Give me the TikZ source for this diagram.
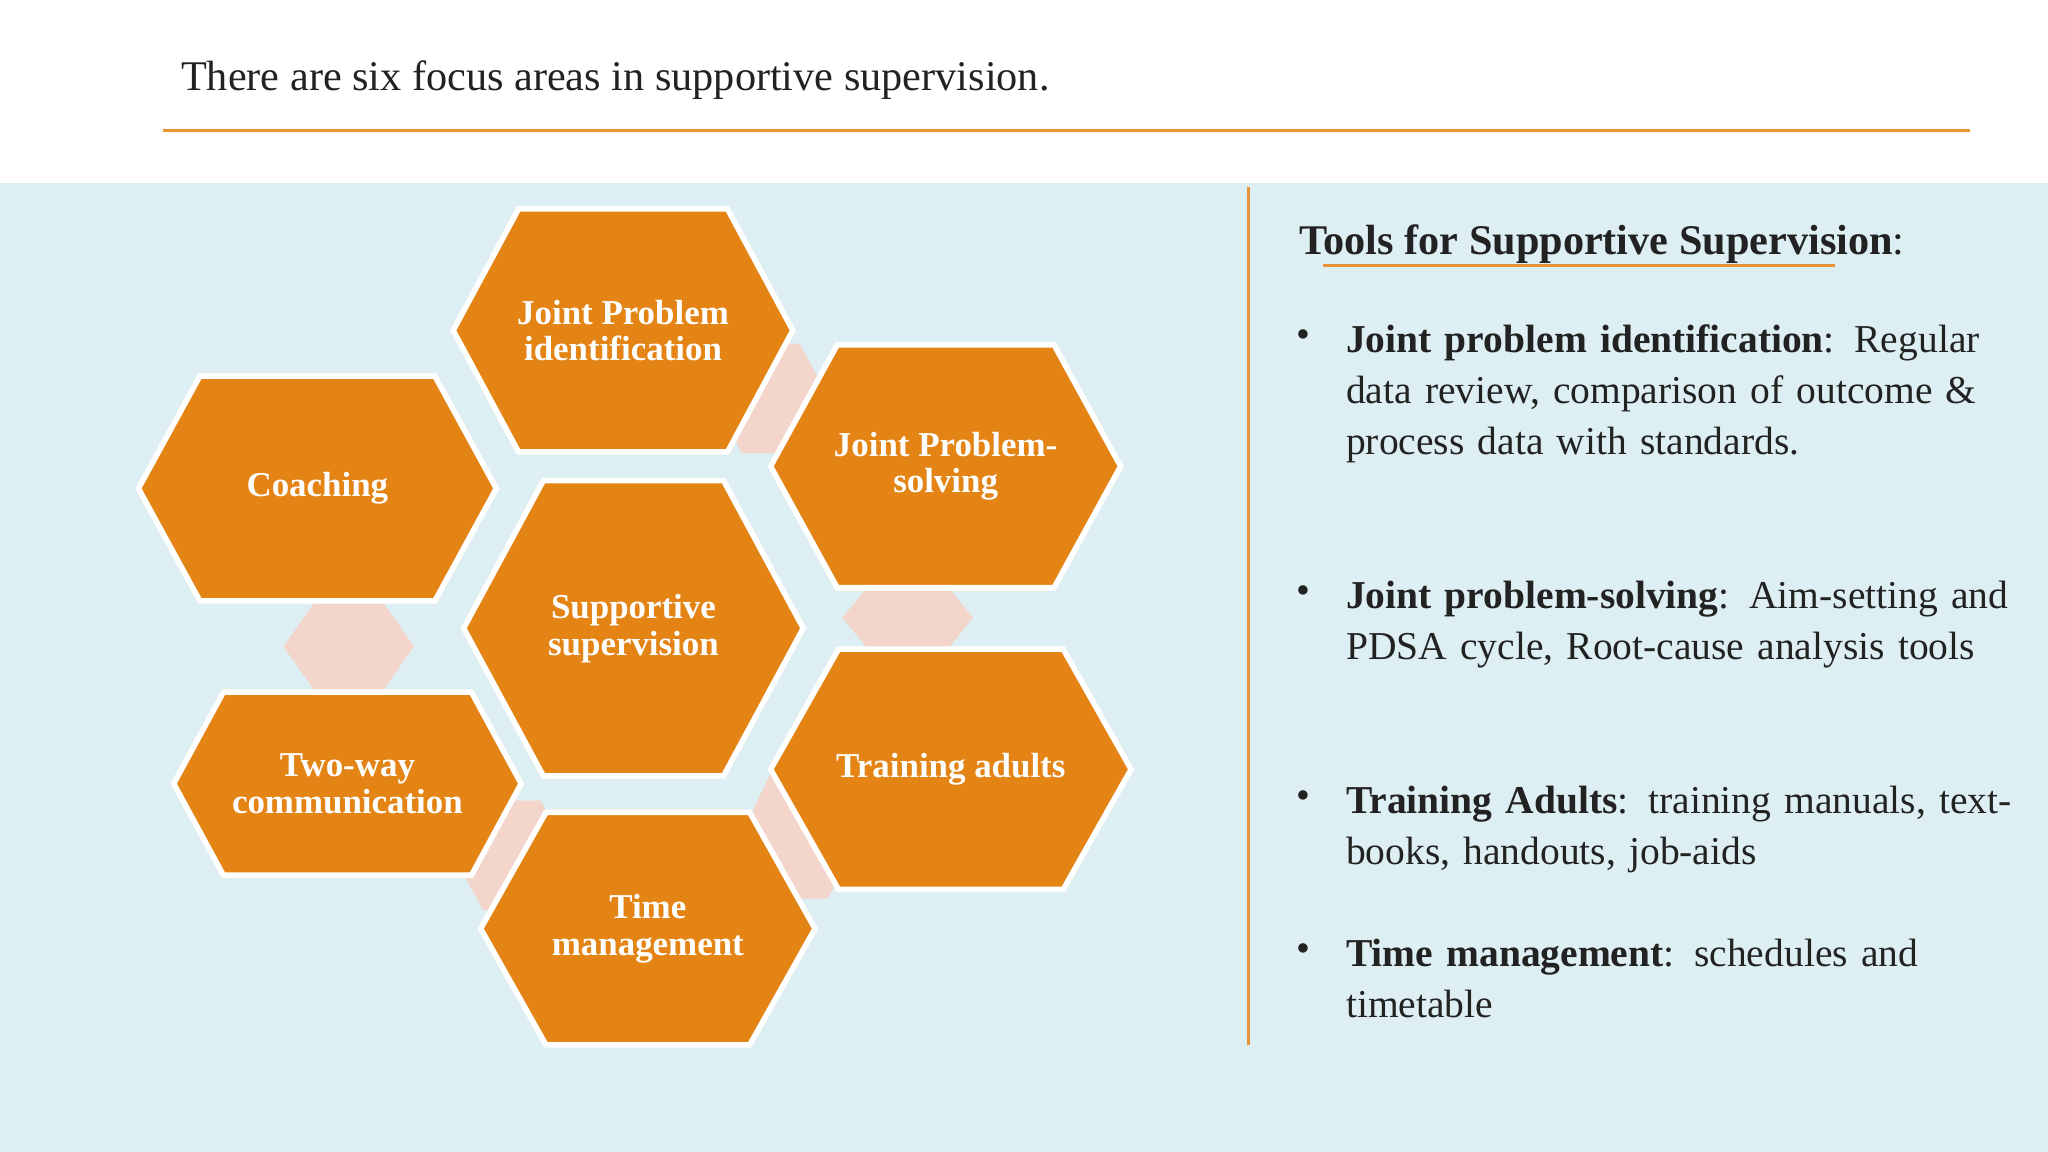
\documentclass[tikz,border=0pt]{standalone}
\usepackage{fontspec}
\setmainfont{Liberation Serif}
\definecolor{bgblue}{HTML}{DDEFF3}
\definecolor{hexor}{HTML}{E38415}
\definecolor{pinkc}{HTML}{F3D5CB}
\definecolor{lineor}{HTML}{E8923A}
\definecolor{txt}{HTML}{222222}
\tikzset{
 hexfill/.style={fill=hexor,draw=white,line width=1.2pt},
 pinkfill/.style={fill=pinkc},
 hextext/.style={text=white,font=\fontsize{7.6}{8}\selectfont\bfseries,align=center},
 bodytext/.style={text=txt,font=\fontsize{8.6}{11.1}\selectfont,align=left,anchor=north west,text width=5.2cm,inner sep=0pt},
 bul/.style={text=txt,font=\fontsize{8.6}{11}\selectfont,anchor=north,inner sep=0pt}
}
\newcommand\hexa[7]{\fill[hexfill] (#2-#4,#3) -- (#2-#6,#3-#5) -- (#2+#6,#3-#5) -- (#2+#4,#3) -- (#2+#6,#3+#5) -- (#2-#6,#3+#5) -- cycle; \node[hextext] (#1) at (#2,#3) {#7};}
\newcommand\phex[6]{\fill[pinkfill] (#2-#4,#3) -- (#2-#6,#3-#5) -- (#2+#6,#3-#5) -- (#2+#4,#3) -- (#2+#6,#3+#5) -- (#2-#6,#3+#5) -- cycle; \coordinate (#1) at (#2,#3);}
\begin{document}
\begin{tikzpicture}[x=0.01cm,y=-0.01cm]
\useasboundingbox (0,0) rectangle (1568,882);
\fill[white] (0,0) rectangle (1568,882);
\fill[bgblue] (0,140) rectangle (1568,882);
\node[anchor=west,text=txt,font=\fontsize{9.2}{11}\selectfont,inner sep=0pt] (title) at (138,61) {There are six focus areas in supportive supervision.};
\draw[lineor,line width=0.6pt] (125,100) -- (1508,100);
\draw[lineor,line width=0.6pt] (956,143) -- (956,800);
% pink connectors
\phex{p1}{267}{495}{50}{34}{26}
\phex{p2}{695}{473}{50}{22}{32}
\phex{p3}{590}{305}{45}{42}{22}
\phex{p4}{392}{655}{45}{42}{22}
\phex{p5}{612}{640}{45}{48}{22}
% hexagons
\hexa{jpi}{477}{253}{130}{93}{80}{Joint Problem\\identification}
\hexa{coach}{243}{374}{137}{86}{90}{Coaching}
\hexa{jps}{724}{357}{134}{93}{83}{Joint Problem-\\solving}
\hexa{sup}{485}{481}{130}{113}{69}{Supportive\\supervision}
\hexa{two}{266}{600}{133}{70}{95}{Two-way\\communication}
\hexa{train}{728}{589}{138}{92}{86}{Training adults}
\hexa{time}{496}{711}{128}{89}{78}{Time\\management}
% right text
\node[anchor=west,text=txt,font=\fontsize{9.2}{11}\selectfont\bfseries,inner sep=0pt] (tools) at (994,187) {Tools for Supportive Supervision\mdseries:};
\draw[lineor,line width=0.6pt] (1013,203) -- (1405,203);
\node[bul] (b1) at (998,252) {•};
\node[bodytext] (t1) at (1030,248) {\textbf{Joint problem identification}: Regular data review, comparison of outcome \& process data with standards.};
\node[bul] (b2) at (998,448) {•};
\node[bodytext] (t2) at (1030,444) {\textbf{Joint problem-solving}: Aim-setting and PDSA cycle, Root-cause analysis tools};
\node[bul] (b3) at (998,605) {•};
\node[bodytext] (t3) at (1030,601) {\textbf{Training Adults}: training manuals, textbooks, handouts, job-aids};
\node[bul] (b4) at (998,722) {•};
\node[bodytext] (t4) at (1030,718) {\textbf{Time management}: schedules and timetable};
\end{tikzpicture}
\end{document}
